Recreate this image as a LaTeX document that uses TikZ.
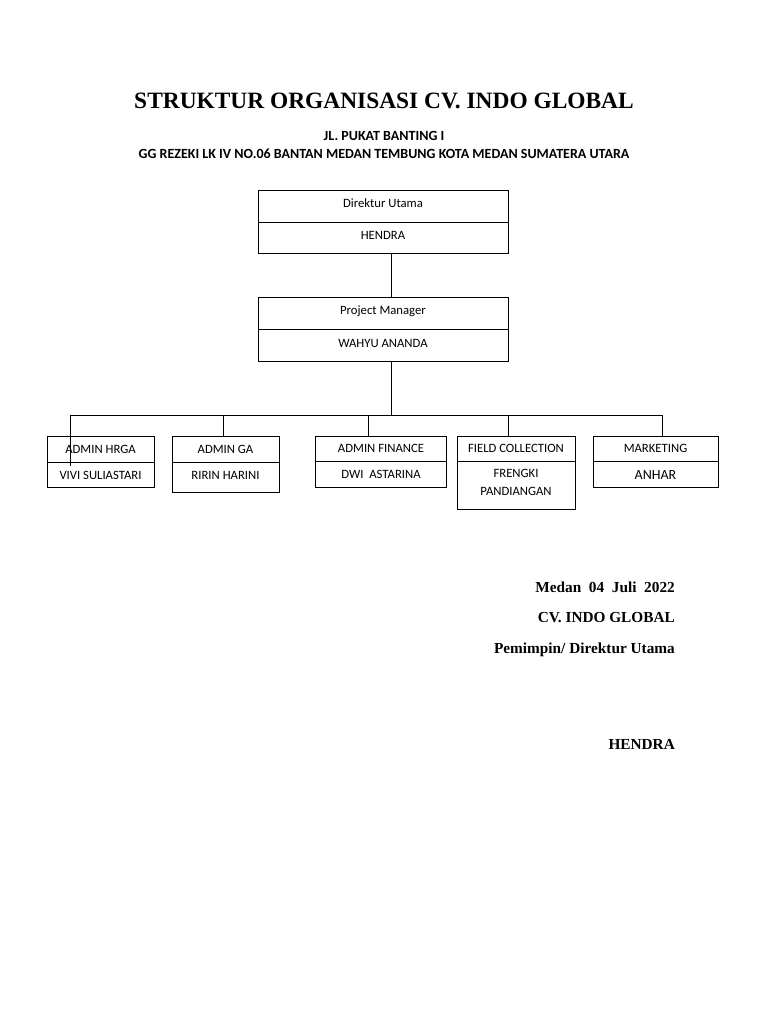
\documentclass[tikz,border=0pt]{standalone}
\usepackage{fontspec}
\setmainfont{Carlito}
\newfontfamily\serifb{Liberation Serif}
\begin{document}
\begin{tikzpicture}[x=1pt,y=-1pt,
  cell/.style={draw=black,line width=0.9pt,inner sep=0pt,font=\fontsize{12.7}{15}\selectfont,align=center},
  topcell/.style={cell,text height=8.5pt,text depth=6pt},
  conn/.style={draw=black,line width=0.9pt},
  sig/.style={anchor=east,inner sep=0pt,font=\serifb\bfseries\fontsize{15.3}{18}\selectfont}]
\useasboundingbox[fill=white] (0,0) rectangle (768,1024);
% title
\node[inner sep=0pt,font=\serifb\bfseries\fontsize{23.4}{28}\selectfont] (title) at (384,101) {STRUKTUR ORGANISASI CV. INDO GLOBAL};
\node[inner sep=0pt,font=\bfseries\fontsize{14}{16}\selectfont] (sub1) at (384,136) {JL. PUKAT BANTING I};
\node[inner sep=0pt,font=\bfseries\fontsize{14}{16}\selectfont] (sub2) at (384,154) {GG REZEKI LK IV NO.06 BANTAN MEDAN TEMBUNG KOTA MEDAN SUMATERA UTARA};
% top boxes
\node[topcell,minimum width=250,minimum height=32] (dtop) at (383,206) {Direktur Utama};
\node[topcell,minimum width=250,minimum height=31,anchor=north] (dbot) at (dtop.south) {HENDRA};
\node[topcell,minimum width=250,minimum height=32] (ptop) at (383,313) {Project Manager};
\node[topcell,minimum width=250,minimum height=32,anchor=north] (pbot) at (ptop.south) {WAHYU ANANDA};
% bottom row
\node[cell,minimum width=107,minimum height=26] (htop) at (100.5,449) {ADMIN HRGA};
\node[cell,minimum width=107,minimum height=25,anchor=north] (hbot) at (htop.south) {VIVI SULIASTARI};
\node[cell,minimum width=107,minimum height=26] (gtop) at (225.5,449) {ADMIN GA};
\node[cell,minimum width=107,minimum height=30,anchor=north,text height=8.5pt,text depth=6pt] (gbot) at (gtop.south) {RIRIN HARINI};
\node[cell,minimum width=131,minimum height=25] (ftop) at (381,448.5) {ADMIN FINANCE};
\node[cell,minimum width=131,minimum height=26,anchor=north] (fbot) at (ftop.south) {DWI\ \ ASTARINA};
\node[cell,minimum width=118,minimum height=25] (ctop) at (516,448.5) {FIELD COLLECTION};
\node[cell,minimum width=118,minimum height=48,anchor=north,font=\fontsize{12.7}{18}\selectfont,text depth=8pt] (cbot) at (ctop.south) {FRENGKI\\PANDIANGAN};
\node[cell,minimum width=125,minimum height=25] (mtop) at (655.5,448.5) {MARKETING};
\node[cell,minimum width=125,minimum height=26,anchor=north,font=\fontsize{14}{16}\selectfont] (mbot) at (mtop.south) {ANHAR};
% connectors
\coordinate (vx) at (391,0);
\coordinate (busL) at (70,415);
\coordinate (busR) at (662,415);
\coordinate (hEnd) at (70,466);
\coordinate (dG) at (223,415);
\coordinate (dF) at (368,415);
\coordinate (dC) at (508,415);
\draw[conn] (dbot.south -| vx) -- (ptop.north -| vx);
\draw[conn] (pbot.south -| vx) -- (busL -| vx);
\draw[conn] (busL) -- (busR);
\draw[conn] (busL) -- (hEnd);
\draw[conn] (dG) -- (dG |- gtop.north);
\draw[conn] (dF) -- (dF |- ftop.north);
\draw[conn] (dC) -- (dC |- ctop.north);
\draw[conn] (busR) -- (busR |- mtop.north);
% signature
\node[sig] (s1) at (675,587) {Medan\ \ 04\ \ Juli\ \ 2022};
\node[sig] (s2) at (675,618) {CV. INDO GLOBAL};
\node[sig] (s3) at (675,650) {Pemimpin/ Direktur Utama};
\node[sig] (s4) at (675,744) {HENDRA};
\end{tikzpicture}
\end{document}
